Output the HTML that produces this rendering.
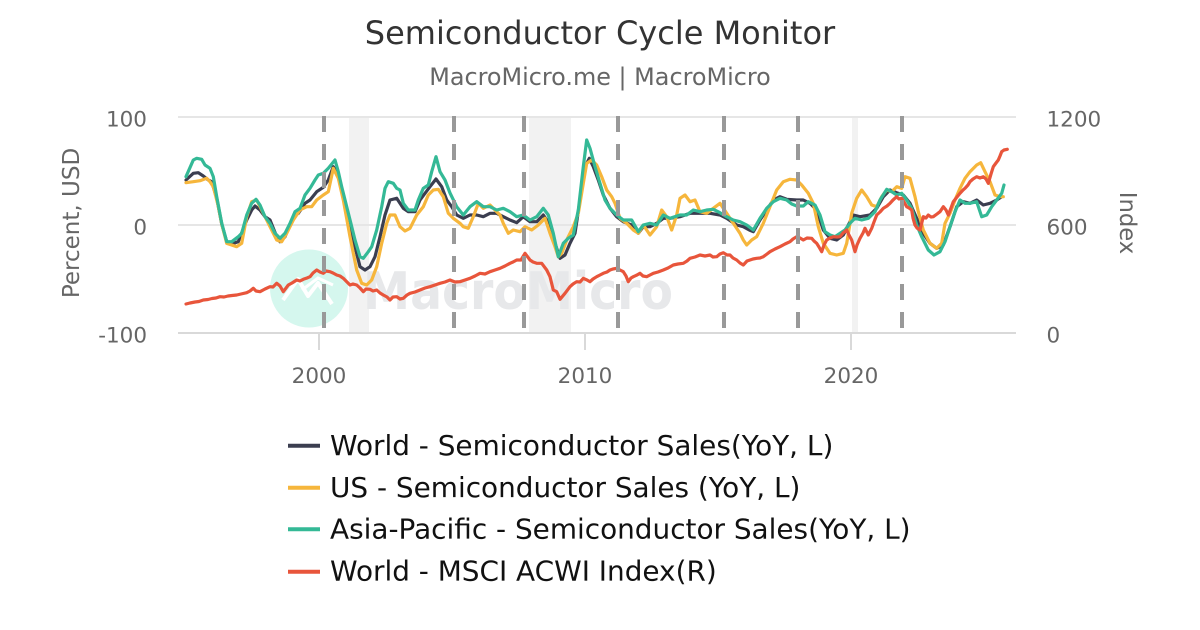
<!DOCTYPE html>
<html><head><meta charset="utf-8"><style>
html,body{margin:0;padding:0;background:#fff;}
svg{display:block;font-family:"DejaVu Sans","Liberation Sans",sans-serif;}
</style></head><body>
<svg width="1200" height="630" viewBox="0 0 1200 630" xmlns="http://www.w3.org/2000/svg">
<rect width="1200" height="630" fill="#fff"/>
<text x="600" y="44" text-anchor="middle" font-size="32" fill="#333">Semiconductor Cycle Monitor</text>
<text x="600" y="85" text-anchor="middle" font-size="23.9" fill="#666">MacroMicro.me | MacroMicro</text>
<!-- bands -->
<rect x="349" y="117" width="20" height="216" fill="#f2f2f2"/>
<rect x="529" y="117" width="42" height="216" fill="#f2f2f2"/>
<rect x="852" y="117" width="6" height="216" fill="#f2f2f2"/>
<!-- grid -->
<g stroke="#e6e6e6" stroke-width="2">
<line x1="178" y1="117" x2="1016" y2="117"/>
<line x1="178" y1="225" x2="1016" y2="225"/>
</g>
<line x1="178" y1="333" x2="1016" y2="333" stroke="#d9d9d9" stroke-width="2"/>
<g stroke="#d9d9d9" stroke-width="2">
<line x1="319" y1="333" x2="319" y2="350"/>
<line x1="585" y1="333" x2="585" y2="350"/>
<line x1="851" y1="333" x2="851" y2="350"/>
</g>
<!-- watermark -->
<circle cx="309" cy="288.5" r="39" fill="#d5f7ee"/>
<polyline points="283,300 298,279 308,296 318,283 332,304" fill="none" stroke="#fff" stroke-width="4" stroke-linejoin="round"/>
<polyline points="302,290 318,278 333,285" fill="none" stroke="#fff" stroke-width="3"/>
<text x="363" y="309" font-size="52" font-weight="bold" fill="#e7e8ea" textLength="310" lengthAdjust="spacingAndGlyphs">MacroMicro</text>
<!-- series -->
<g fill="none" stroke-width="3.2" stroke-linejoin="round" stroke-linecap="round">
<polyline stroke="#3b3e50" points="186,180 193.3,173.3 198.3,172.7 203.3,176 208.3,180 211.7,181.7 216.7,198 221.7,224 226.7,241.7 233.3,243.3 238.3,241.7 246.7,220 251.7,210 255,206 260,210 265,216.7 270,220 276.7,236.7 280,241.7 285,236.7 293.3,216.7 298.3,213.3 305,203.3 310,200 316.7,191.7 323.3,187.3 328.3,180 333.3,166.7 338.3,175 343.3,196.7 350,226.7 355,246.7 360,266.7 365,270 370,266.7 375,256.7 380,236.7 385,215 390,200 396.7,198.3 403.3,208.3 408.3,211.7 415,211.7 420,200 425,193.3 430,186.7 436,179 441.7,186.7 446.7,200 451.7,206.7 456.7,215 463.3,218.3 470,215 476.7,215 483.3,216.7 490,213.3 496.7,213.3 503.3,216.7 510,220 516.7,222.7 523.3,216.7 530,221.7 536.7,221.7 543.3,215 550,225 555,243.3 560,258.3 565,255 570,243.3 575,233.3 580,200 585,166.7 589.3,158.3 593.3,166.7 598.3,180 603.3,195 610,208.3 616.7,216.7 623.3,221.7 631.7,225 638.3,233.3 643.3,226.7 650,226.7 656.7,223.3 663.3,218.3 670,218.3 680,216.7 690,213.3 700,213.3 710,213.3 720,215 726.7,218.3 736.7,225 743.3,226.7 749.3,230 753.3,231.7 760,220 766.7,210 773.3,200 780,196.7 786.7,199.3 796.7,200 803.3,200 810,203.3 816.7,210 823.3,230 830,238.3 836.7,240 843.3,235 850,221.7 853.3,215 860,216.7 870,215 876.7,208.3 883.3,196.7 890,190 896.7,192.7 903.3,195 910,203.3 916.7,218.3 923.3,233.3 930,243.3 936.7,248.3 943.3,245 950,226.7 956.7,206.7 963.3,201.7 970,203.3 976.7,200 983.3,205 990,203.3 996.7,200 1001.7,196.7"/>
<polyline stroke="#f6b63c" points="186,182.7 193.3,181.7 200,180.7 206.7,178.3 210,181.7 213.3,186.7 218,205 222,225 226.7,243.3 236.7,246.7 241.7,243.3 246.7,216.7 251.7,201.7 256.7,200 261.7,210 270,226.7 276.7,240 281.7,241.7 286.7,233.3 293.3,220 300,210 306.7,206.7 311.7,206.7 316.7,200 323.3,195 328.3,191.7 333.3,168.3 338.3,178.3 343.3,200 350,236.7 356.7,270 361.7,283.3 366.7,285 371.7,280 376.7,266.7 381.7,243.3 386.7,223.3 390,215 395,215 400,226.7 405,231 410,228.3 416.7,215 423.3,206.7 428.3,195 433.3,190 438.3,189.3 443.3,196.7 448.3,213.3 453.3,218.3 460,223.3 463.3,226.7 468.3,228.3 473.3,216.7 478.3,203.3 483.3,208.3 490,205 495,210 500,215 503.3,223.3 508.3,233.3 513.3,230 520,231.7 525,226.7 531.7,230 538.3,225 545,218.3 550,233.3 555,246.7 558.3,256.7 561.7,253.3 566.7,240 573.3,226.7 578.3,213.3 583.3,183.3 586.7,163.3 591.7,160 596.7,165 601.7,176.7 606.7,190 611.7,196.7 615,203.3 620,218.3 626.7,223.3 633.3,230 638.3,233.3 643.3,225 650,235 656.7,226.7 661.7,210 666.7,216.7 671.7,230 676.7,215 680,198.3 685,195 690,201.7 695,200 700,211.7 706.7,213.3 713.3,208.3 720,203.3 726.7,213.3 733.3,223.3 740,233.3 743.3,240 746.7,245 751.7,240 756.7,236.7 763.3,223.3 770,206.7 776.7,190 783.3,181.7 790,179.3 796.7,180 801.7,185 808.3,193.3 813.3,203.3 818.3,226.7 823.3,243.3 830,253.3 836.7,255 843.3,253.3 846.7,243.3 851.7,213.3 856.7,198.3 861.7,190 866.7,196.7 871.7,205 876.7,206.7 881.7,196.7 886.7,190 891.7,191.7 896.7,186.7 901.7,188.3 905,176.7 910,178.3 915,196.7 918.3,211.7 923.3,230 930,243.3 936.7,248.3 941.7,243.3 945,223.3 950,213.3 955,200 960,188.3 965,178.3 970,171.7 976.7,165 980.7,162.7 985,171.7 990,181.7 995,195 1000,196.7 1003.3,196.7"/>
<polyline stroke="#34b996" points="186,176.7 193.3,160 196.7,158.3 201.7,159.3 205,165 210,168.3 213.3,176.7 216.7,196.7 221.7,223 226.7,241.7 231.7,241.7 238.3,236.7 241.7,233.3 246.7,215 251.7,203.3 256,199.3 260,205 265,216.7 270,223.3 275,233.3 280,238.3 285,233.3 290,223.3 295,211.7 300,208.3 305,195 310,188.3 315,180 318.3,175 323.3,173.3 328.3,168.3 335,160 338.3,171.7 341.7,186.7 346.7,206.7 351.7,226.7 355,240 360,256.7 363.3,258.3 368.3,251.7 371.7,246.7 376.7,230 381.7,206.7 385,188.3 388.3,181.7 393.3,183.3 396.7,188.3 400,190 403.3,203.3 408.3,210 415,210 418.3,200 423.3,188.3 428.3,185 431.7,171.7 436,156.7 440,171.7 445,180 450,193 456.7,206.7 463.3,215 470,206.7 476.7,201.7 483.3,206.7 490,206.7 496.7,210 503.3,208.3 510,211.7 516.7,216.7 523.3,215 530,220 536.7,216.7 543.3,208.3 548.3,215 553.3,233.3 558.3,256.7 563.3,243.3 568.3,238.3 573.3,235 578.3,210 583.3,166.7 586.7,140 590,148.3 595,166.7 600,183.3 605,200 610,208.3 616.7,215 623.3,220 631.7,220 638.3,231.7 643.3,225 650,223.3 656.7,225 663.3,215 670,218.3 680,215 686.7,215 693.3,210 700,211.7 706.7,210 713.3,209.3 720,212.7 726.7,216.7 733.3,220 740,221.7 746.7,225 753.3,230 760,218.3 766.7,208.3 773.3,201.7 780,198.3 786.7,200 791.7,204 796.7,206 803.3,206 808.3,201.7 815,205 820,215 825,231.7 830,235 835,236.7 840,233.3 845,230 850,223.3 855,218.3 861.7,220 868.3,218.3 875,211.7 880,200 886.7,189.3 891.7,191.7 896.7,195 901.7,193.3 906.7,200 911.7,208.3 916.7,225 921.7,236.7 928.3,250 934,255 940,251.7 945,241.7 950,226.7 955,211.7 960,200 965,203.3 970,203.3 976.7,201.7 981.7,216.7 986.7,215 991.7,206.7 996.7,200 1001.7,193.3 1004,185"/>
<polyline stroke="#e8553b" points="186,304 190,303 195,302 199,301.5 203.3,300 208,299.5 212,298.5 216,298 220,296.7 224,297 228,296 232,295.5 236.7,295 241,294 246.7,292.7 250,291 253.3,288.3 256,291 260,291.7 265,289 270,286.7 273,287 276.7,283.3 280,286 283.3,291.7 288.3,285 292,283 296.7,280 300,281 303.3,279.3 307,278 310,276.7 313,273 316.7,270 320,272 323.3,273.3 326,271 330,271.7 333,273 336.7,275 340,276 343.3,278.3 347,282 350,285 353,284 356.7,285 360,288 363.3,291.7 366,289 370,289.3 373,291 376.7,290 380,293 383.3,295 387,297 390,300 393,297 396.7,296.7 400,299 403.3,298.3 407,295 410,293.3 415,292 420,290 425,288 430,286.7 435,285 440,283.3 445,282 450,280 455,282 460,281.7 465,280 470,278.3 475,276 480,273.3 485,274 490,271.7 495,270 500,268.3 505,266 510,263.3 513,262 516.7,260 521,260 525,253.3 530,260 533,262 536.7,263.3 541.7,263.3 546.7,270 550,276.7 553.3,290 556.7,291.7 560,299.3 565,293.3 570,286.7 573,284 576.7,281.7 580,282 583.3,278.3 587,280 590,281.7 593,279 596.7,276.7 600,275 603.3,273.3 607,272 610,270 613,269 616.7,268.3 620,270 623.3,271.7 626,276 628.3,281.7 631,278 633.3,276.7 637,275 640,273.3 643,276 646.7,276.7 650,275 653.3,273.3 658,272 663.3,270 668,268 673.3,265 678,264 683.3,263.3 687,261 690,258.3 695,257 700,255 705,256 710,255 713,257 716.7,256.7 720,254 723.3,252.7 727,255 730,255 733,258 736.7,260 740,263 743.3,265 747,261 750,260 753,259 756.7,258.3 760,258 763.3,256.7 767,254 770,251.7 775,249 780,246.7 785,244 790,241.7 793,239 796.7,236.7 800,238 803.3,240 807,238 811.7,238.3 814,241 816.7,243.3 819,247 821.7,251.7 824,245 826.7,240 830,238 833.3,236.7 837,237 840,236.7 843,233 846.7,230 849,235 851.7,240 855,251.7 857,245 860,238.3 863,233 865,228.3 868.3,235 871.7,228.3 874,222 876.7,215 880,212 883.3,208.3 887,206 890,203.3 893,200 896.7,196.7 899,199 901.7,198.3 904,202 906.7,206.7 909,208 911.7,210 913,218 915,225 917,228 920,230 923.3,216.7 926,218 928.3,215 931,217 933.3,216.7 937,214 940,211.7 943.3,206.7 946,210 948.3,215 951,208 953.3,201.7 957,197 960,193.3 963,190 965,188.3 968,185 970,181.7 973,179 976.7,176.7 980,178 983.3,176.7 986,179 988.3,183.3 991,174 993.3,166.7 996,163 998.3,160 1000,156 1001.7,151.7 1004,150 1007.3,149.3"/>
</g>
<!-- dashed plot lines -->
<g stroke="#999" stroke-width="4" stroke-dasharray="16 12">
<line x1="324" y1="116" x2="324" y2="328"/>
<line x1="454" y1="116" x2="454" y2="328"/>
<line x1="524" y1="116" x2="524" y2="328"/>
<line x1="618" y1="116" x2="618" y2="328"/>
<line x1="724" y1="116" x2="724" y2="328"/>
<line x1="798" y1="116" x2="798" y2="328"/>
<line x1="902" y1="116" x2="902" y2="328"/>
</g>
<!-- axis labels -->
<g font-size="21.5" fill="#666">
<text x="147" y="126.5" text-anchor="end">100</text>
<text x="147" y="234.5" text-anchor="end">0</text>
<text x="147" y="342.5" text-anchor="end">-100</text>
<text x="1046.5" y="126.5">1200</text>
<text x="1046.5" y="234.5">600</text>
<text x="1046.5" y="342.5">0</text>
<text x="319" y="383" text-anchor="middle">2000</text>
<text x="585" y="383" text-anchor="middle">2010</text>
<text x="851" y="383" text-anchor="middle">2020</text>
</g>
<text transform="translate(79,223) rotate(-90)" text-anchor="middle" font-size="23" fill="#666">Percent, USD</text>
<text transform="translate(1120,223) rotate(90)" text-anchor="middle" font-size="22.7" fill="#666">Index</text>
<!-- legend -->
<g stroke-width="4">
<line x1="288" y1="445.7" x2="320" y2="445.7" stroke="#3b3e50"/>
<line x1="288" y1="487.7" x2="320" y2="487.7" stroke="#f6b63c"/>
<line x1="288" y1="529.3" x2="320" y2="529.3" stroke="#34b996"/>
<line x1="288" y1="571.7" x2="320" y2="571.7" stroke="#e8553b"/>
</g>
<g font-size="27.9" fill="#111">
<text x="330" y="455">World - Semiconductor Sales(YoY, L)</text>
<text x="330" y="497">US - Semiconductor Sales (YoY, L)</text>
<text x="330" y="538.5">Asia-Pacific - Semiconductor Sales(YoY, L)</text>
<text x="330" y="580.5">World - MSCI ACWI Index(R)</text>
</g>
</svg>
</body></html>
